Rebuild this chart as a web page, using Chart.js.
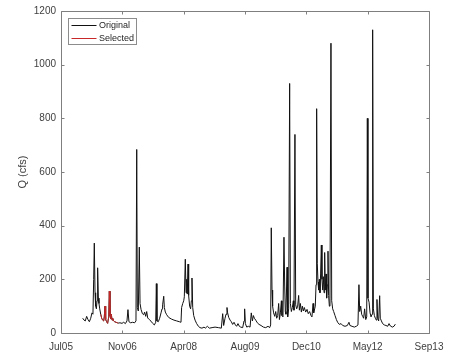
<!DOCTYPE html>
<html><head><meta charset="utf-8">
<script src="https://cdn.jsdelivr.net/npm/chart.js@4.4.1/dist/chart.umd.min.js"></script>
<style>html,body{margin:0;padding:0;background:#fff;}#wrap{width:474px;height:355px;position:relative;}canvas{display:block;}</style>
</head><body><div id="wrap"><canvas id="c" width="474" height="355"></canvas></div>
<script>
// days since 2005-07-01
const seriesNames = ['Original', 'Selected'];
const xTickLabels = ['Jul05', 'Nov06', 'Apr08', 'Aug09', 'Dec10', 'May12', 'Sep13'];
const xSpanDays = 2984; // 2005-07-01 .. 2013-09-01
const yMin = 0, yMax = 1200, yStep = 200;

const selectedDays = [322,330,338,346,351,357,362,370,378,387,392,397,403,408,414,419,427,435,446,457,465];
const selectedQ    = [70,55,48,45,60,100,50,42,36,60,156,65,52,70,48,55,45,42,40,38,37];

const originalDays = [
176,187,197,208,219,230,241,251,259,265,270,276,281,287,292,297,303,308,314,
322,330,338,346,351,357,362,370,378,387,392,397,403,408,414,419,427,435,446,457,465,
478,495,508,522,535,543,551,565,581,597,
608,614,619,627,635,641,649,660,670,678,
687,695,703,716,730,743,757,768,773,778,
789,800,811,819,824,833,838,846,857,873,
895,916,938,960,973,978,987,995,1000,1008,
1014,1019,1024,1030,1035,1043,1051,1057,1062,1068,
1076,1087,1100,1114,1127,1143,1160,1170,1187,1203,
1225,1249,1276,1300,1311,1319,1330,1338,1346,1351,
1360,1371,1381,1392,1403,1414,1424,1435,1446,1457,
1473,1484,1489,1495,1506,1519,1533,1543,1552,1560,
1568,1579,1592,1606,1622,1641,1660,1679,1692,1700,
1705,1711,1716,1724,1733,1741,1749,1757,1765,1771,
1779,1787,1792,1800,1808,1814,1819,1824,1833,1838,
1846,1854,1860,1868,1876,1884,1889,1897,1903,1911,
1919,1927,1933,1941,1949,1957,1965,1973,1984,1995,
2005,2016,2027,2035,2044,2049,2057,2062,2068,2073,
2078,2084,2089,2095,2100,2105,2111,2116,2122,2127,
2133,2138,2143,2149,2154,2160,2165,2170,2176,2181,
2189,2195,2203,2211,2222,2233,2243,2257,2271,2284,
2303,2322,2335,2343,2360,2379,2398,2408,2416,2422,
2430,2438,2446,2454,2462,2471,2479,2484,2489,2498,
2506,2514,2522,2527,2533,2541,2549,2557,2562,2568,
2576,2584,2589,2598,2608,2622,2635,2649,2660,2671,
2687,2700,2711];

const originalQ = [
55,48,45,62,50,42,55,75,70,200,335,150,100,90,120,243,130,110,90,
70,55,48,45,60,100,50,42,36,60,156,65,52,70,48,55,45,42,40,38,37,
38,36,40,35,45,87,42,38,40,38,
45,684,95,82,320,110,88,72,68,78,
62,80,56,50,44,36,30,40,184,45,
42,55,75,90,105,137,95,78,68,58,
52,48,45,42,40,95,110,120,135,275,
150,200,145,257,140,100,90,120,205,95,
65,48,35,25,20,18,22,18,25,18,
20,22,20,18,72,28,55,70,95,75,
58,48,42,32,40,30,25,35,25,22,
20,45,90,35,22,25,22,75,45,65,
55,48,38,32,28,22,20,25,20,30,
392,160,100,75,62,80,55,65,110,50,
75,120,65,60,357,175,80,70,245,60,
90,930,110,80,95,120,85,740,105,90,
100,140,85,110,78,100,82,95,78,88,
72,80,65,60,110,75,90,100,180,836,
260,190,160,200,150,220,328,200,160,210,
150,300,160,220,130,180,305,140,100,130,
1080,120,90,80,65,50,40,32,35,28,
25,28,40,28,25,22,26,30,180,80,
100,70,62,55,90,50,60,800,130,115,
75,60,70,1130,90,65,55,48,125,55,
45,139,55,45,35,30,28,25,35,26,
22,25,33];

const FONT = "'Liberation Sans', Arial, Helvetica, sans-serif";
const AXIS_COLOR = '#7f7f7f';
const TEXT_COLOR = '#404040';

const toPts = (xs, ys) => xs.map((d, i) => ({x: d, y: ys[i]}));

const boxPlugin = {
  id: 'matlabBox',
  afterDraw(chart) {
    const {ctx, chartArea: a, scales: {x, y}} = chart;
    ctx.save();
    ctx.strokeStyle = AXIS_COLOR;
    ctx.lineWidth = 1;
    const L = Math.round(a.left) + 0.5, R = Math.round(a.right) + 0.5;
    const T = Math.round(a.top) + 0.5, B = Math.round(a.bottom) + 0.5;
    ctx.beginPath();
    ctx.rect(L, T, R - L, B - T);
    const tl = 3;
    x.ticks.forEach(t => {
      const px = Math.round(x.getPixelForValue(t.value)) + 0.5;
      ctx.moveTo(px, B); ctx.lineTo(px, B - tl);
      ctx.moveTo(px, T); ctx.lineTo(px, T + tl);
    });
    y.ticks.forEach(t => {
      const py = Math.round(y.getPixelForValue(t.value)) + 0.5;
      ctx.moveTo(L, py); ctx.lineTo(L + tl, py);
      ctx.moveTo(R, py); ctx.lineTo(R - tl, py);
    });
    ctx.stroke();
    ctx.restore();
  }
};

const legendPlugin = {
  id: 'insideLegend',
  afterDatasetsDraw(chart) {
    const {ctx, chartArea: a} = chart;
    const items = [chart.data.datasets[1], chart.data.datasets[0]];
    const bx = Math.round(a.left) + 7.5, by = Math.round(a.top) + 7.5;
    const bw = 68, bh = 26;
    ctx.save();
    ctx.fillStyle = '#fff';
    ctx.fillRect(bx, by, bw, bh);
    ctx.strokeStyle = '#8c8c8c';
    ctx.lineWidth = 1;
    ctx.strokeRect(bx, by, bw, bh);
    ctx.font = '9px ' + FONT;
    ctx.textBaseline = 'middle';
    ctx.textAlign = 'left';
    items.forEach((ds, i) => {
      const ly = by + 7 + i * 13;
      ctx.strokeStyle = ds.borderColor;
      ctx.beginPath();
      ctx.moveTo(bx + 3, ly); ctx.lineTo(bx + 28, ly);
      ctx.stroke();
      ctx.fillStyle = '#262626';
      ctx.fillText(ds.label, bx + 30.5, ly + 0.5);
    });
    ctx.restore();
  }
};

new Chart(document.getElementById('c'), {
  type: 'line',
  data: {
    datasets: [
      { label: seriesNames[1], data: toPts(selectedDays, selectedQ), borderColor: '#c82828', borderWidth: 0.9, pointRadius: 0, tension: 0, fill: false },
      { label: seriesNames[0], data: toPts(originalDays, originalQ), borderColor: '#111111', borderWidth: 1, pointRadius: 0, tension: 0, fill: false }
    ]
  },
  options: {
    responsive: false,
    animation: false,
    devicePixelRatio: 1,
    parsing: false,
    normalized: true,
    layout: { padding: { top: 8, right: 45, left: 0, bottom: 0 } },
    plugins: { legend: { display: false }, tooltip: { enabled: false } },
    scales: {
      x: {
        type: 'linear', min: 0, max: xSpanDays,
        grid: { display: false, drawTicks: false },
        border: { display: false },
        afterBuildTicks: s => { s.ticks = xTickLabels.map((l, i) => ({ value: i * xSpanDays / (xTickLabels.length - 1) })); },
        ticks: { autoSkip: false, maxRotation: 0, padding: 8, color: TEXT_COLOR, font: { family: FONT, size: 10 },
                 callback: (v, i) => xTickLabels[i] },
        afterFit: s => { s.height = 22; }
      },
      y: {
        min: yMin, max: yMax,
        grid: { display: false, drawTicks: false },
        border: { display: false },
        ticks: { stepSize: yStep, padding: 5, color: TEXT_COLOR, font: { family: FONT, size: 10 },
                 callback: v => String(v) },
        title: { display: true, text: 'Q (cfs)', color: TEXT_COLOR, font: { family: FONT, size: 11 }, padding: { top: 16, bottom: 0 } },
        afterFit: s => { s.width = 61; }
      }
    }
  },
  plugins: [boxPlugin, legendPlugin]
});
</script>
</body></html>
